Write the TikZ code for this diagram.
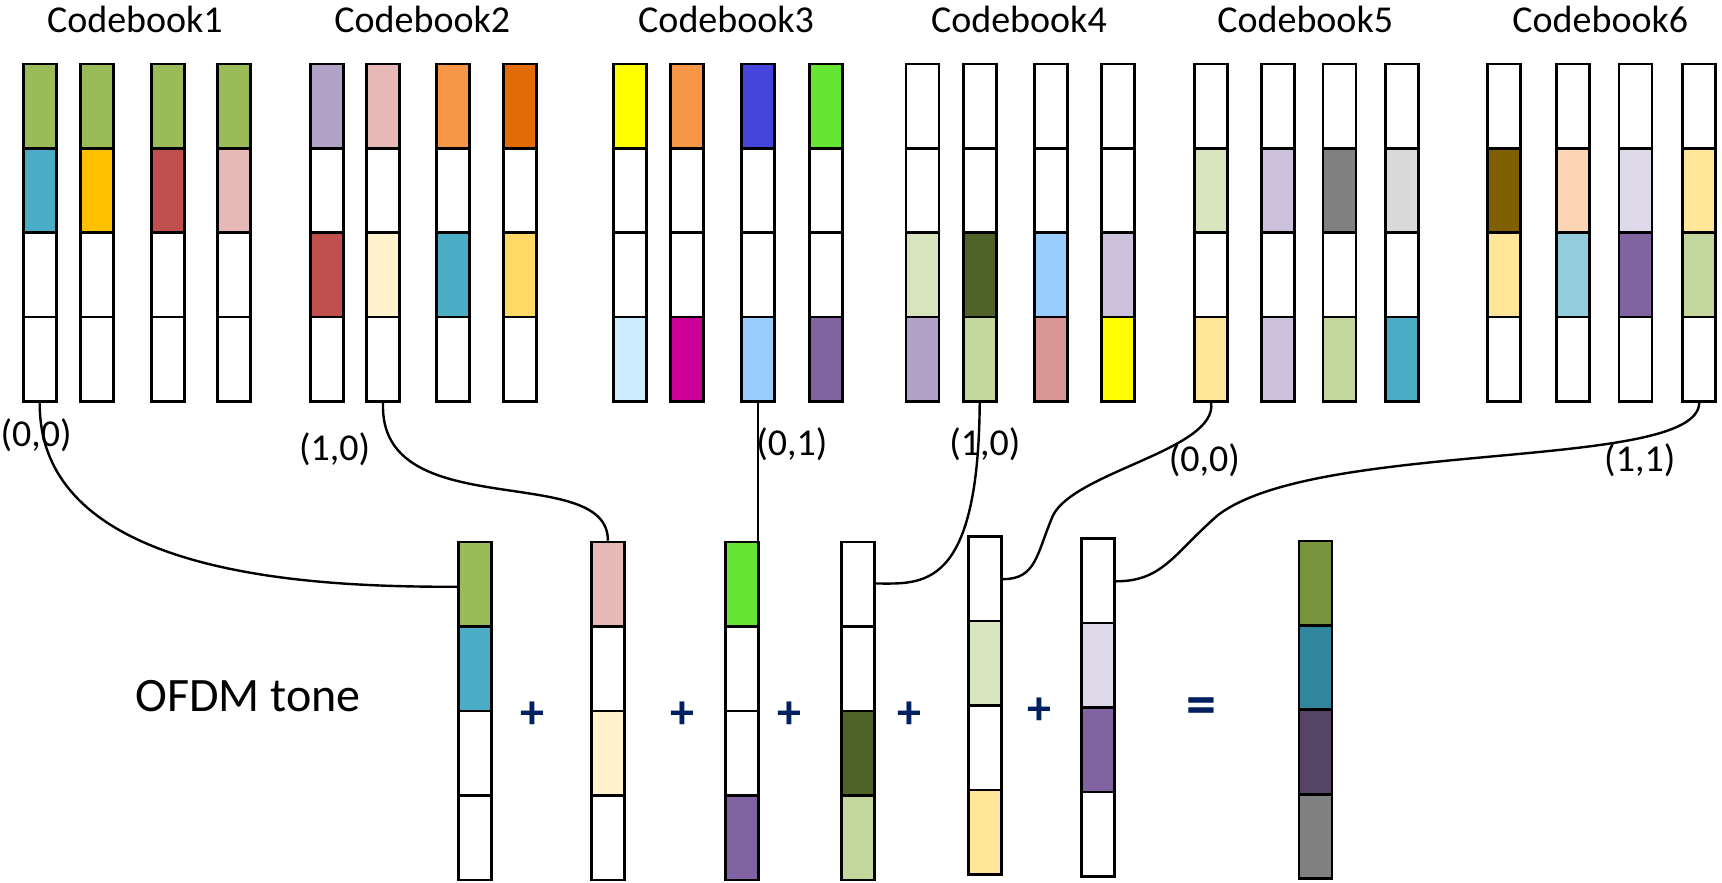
\documentclass[tikz,border=0pt]{standalone}
\usepackage{fontspec}
\setmainfont{Carlito}
\begin{document}
\begin{tikzpicture}[x=0.5484pt,y=-0.5484pt,
  cell/.style={draw=black,line width=1.3pt,minimum width=16.5pt,minimum height=42.2pt,inner sep=0pt,anchor=north west},
  lbl/.style={font=\fontsize{19}{22}\selectfont,inner sep=0pt},
  op/.style={font=\bfseries\fontsize{24}{26}\selectfont,text=navy,inner sep=0pt},
  wire/.style={line width=1.2pt}]
\definecolor{navy}{HTML}{002060}
\useasboundingbox (0,0) rectangle (1570,805);
\newcommand\mycol[7]{%
  \node[cell,fill=#4] (#1-1) at (#2,#3) {};
  \node[cell,fill=#5] (#1-2) at (#2,#3+77) {};
  \node[cell,fill=#6] (#1-3) at (#2,#3+154) {};
  \node[cell,fill=#7] (#1-4) at (#2,#3+231) {};}
\definecolor{gA}{HTML}{9BBB59}\definecolor{cy}{HTML}{4BACC6}\definecolor{og}{HTML}{FFC000}
\definecolor{rd}{HTML}{C0504D}\definecolor{pk}{HTML}{E6B9B8}\definecolor{lv}{HTML}{B3A2C7}
\definecolor{cr}{HTML}{FFF2CC}\definecolor{or}{HTML}{F79646}\definecolor{do}{HTML}{E36C09}
\definecolor{yl}{HTML}{FFD966}\definecolor{ye}{HTML}{FFFF00}\definecolor{lb}{HTML}{CCECFF}
\definecolor{mg}{HTML}{CC0099}\definecolor{bl}{HTML}{4545DB}\definecolor{sb}{HTML}{99CCFF}
\definecolor{lg}{HTML}{66E633}\definecolor{pu}{HTML}{8064A2}\definecolor{pg}{HTML}{D7E4BD}
\definecolor{dg}{HTML}{4F6228}\definecolor{mgr}{HTML}{C3D69B}\definecolor{ro}{HTML}{D99694}
\definecolor{ll}{HTML}{CCC1DA}\definecolor{py}{HTML}{FFE699}\definecolor{gr}{HTML}{808080}
\definecolor{lgr}{HTML}{D9D9D9}\definecolor{br}{HTML}{7F6000}\definecolor{pe}{HTML}{FCD5B5}
\definecolor{tq}{HTML}{93CDDD}\definecolor{vl}{HTML}{DDD9E8}
\definecolor{rA}{HTML}{77933C}\definecolor{rB}{HTML}{31859C}\definecolor{rC}{HTML}{554466}
% top
\foreach \t/\x in {1/123,2/385,3/662,4/929,5/1190,6/1459}
  \node[lbl] (cb\t) at (\x,18) {Codebook\t};
\mycol{a1}{20}{57}{gA}{cy}{white}{white}
\mycol{a2}{72}{57}{gA}{og}{white}{white}
\mycol{a3}{137}{57}{gA}{rd}{white}{white}
\mycol{a4}{197}{57}{gA}{pk}{white}{white}
\mycol{b1}{282}{57}{lv}{white}{rd}{white}
\mycol{b2}{333}{57}{pk}{white}{cr}{white}
\mycol{b3}{397}{57}{or}{white}{cy}{white}
\mycol{b4}{458}{57}{do}{white}{yl}{white}
\mycol{c1}{558}{57}{ye}{white}{white}{lb}
\mycol{c2}{610}{57}{or}{white}{white}{mg}
\mycol{c3}{675}{57}{bl}{white}{white}{sb}
\mycol{c4}{737}{57}{lg}{white}{white}{pu}
\mycol{d1}{825}{57}{white}{white}{pg}{lv}
\mycol{d2}{877}{57}{white}{white}{dg}{mgr}
\mycol{d3}{942}{57}{white}{white}{sb}{ro}
\mycol{d4}{1003}{57}{white}{white}{ll}{ye}
\mycol{e1}{1088}{57}{white}{pg}{white}{py}
\mycol{e2}{1149}{57}{white}{ll}{white}{ll}
\mycol{e3}{1205}{57}{white}{gr}{white}{mgr}
\mycol{e4}{1262}{57}{white}{lgr}{white}{cy}
\mycol{f1}{1355}{57}{white}{br}{py}{white}
\mycol{f2}{1418}{57}{white}{pe}{tq}{white}
\mycol{f3}{1475}{57}{white}{vl}{pu}{white}
\mycol{f4}{1533}{57}{white}{py}{mgr}{white}
% bottom
\mycol{p1}{417}{493}{gA}{cy}{white}{white}
\mycol{p2}{538}{493}{pk}{white}{cr}{white}
\mycol{p3}{660}{493}{lg}{white}{white}{pu}
\mycol{p4}{766}{493}{white}{white}{dg}{mgr}
\mycol{p5}{882}{488}{white}{pg}{white}{py}
\mycol{p6}{985}{490}{white}{vl}{pu}{white}
\mycol{r}{1183}{492}{rA}{rB}{rC}{gr}
% labels
\node[lbl] (l1) at (33,397) {(0,0)};
\node[lbl] (l2) at (305,410) {(1,0)};
\node[lbl] (l3) at (722,405) {(0,1)};
\node[lbl] (l4) at (898,405) {(1,0)};
\node[lbl] (l5) at (1098,420) {(0,0)};
\node[lbl] (l6) at (1495,420) {(1,1)};
\node[font=\fontsize{24}{28}\selectfont,inner sep=0pt] (ofdm) at (226,635) {OFDM tone};
\foreach \i/\x/\y in {1/485/652,2/622/652,3/720/652,4/829/652,5/948/648} \node[op] (plus\i) at (\x,\y) {+};
\node[op,font=\bfseries\fontsize{30}{32}\selectfont] (eq) at (1095,648) {=};
% wires
\draw[wire] (a1-4.south) .. controls (35,530) and (300,535) .. (p1-1.west |- 0,535);
\draw[wire] (b2-4.south) .. controls (345,480) and (555,420) .. (p2-1.north);
\draw[wire] (c3-4.south) -- (c3-4.south |- p3-1.north);
\draw[wire] (d2-4.south) .. controls (892,540) and (840,532) .. (p4-1.east |- 0,532);
\draw[wire] (e1-4.south) .. controls (1110,410) and (980,430) .. (960,470) .. controls (945,505) and (945,528) .. (p5-1.east |- 0,528);
\draw[wire] (f4-4.south) .. controls (1548,430) and (1200,400) .. (1110,470) .. controls (1070,505) and (1060,530) .. (p6-1.east |- 0,530);
\end{tikzpicture}
\end{document}
